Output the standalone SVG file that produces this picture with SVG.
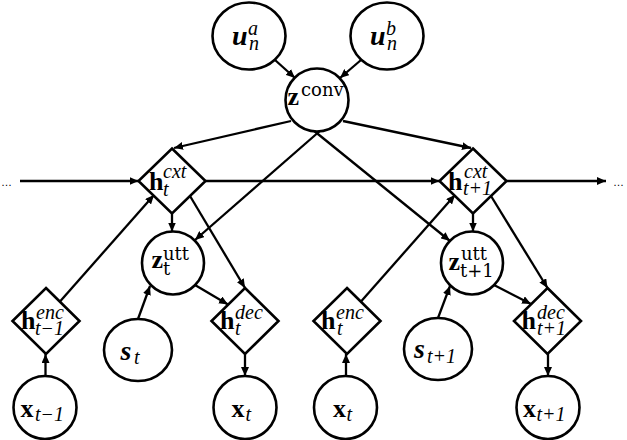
<svg xmlns="http://www.w3.org/2000/svg" width="627" height="440" viewBox="0 0 627 440">
<style>
.n{fill:#fff;stroke:#000;stroke-width:2.6}
.e{stroke:#000;stroke-width:2.3;fill:none;marker-end:url(#ah)}
.t{font-family:"Liberation Serif","Times New Roman",serif;fill:#000}
.m{font-size:26px;font-weight:bold;font-style:normal}
.mi{font-size:28px;font-weight:bold;font-style:italic}
.s{font-size:20px;font-style:italic;font-weight:normal}
.su{font-family:"DejaVu Serif","Liberation Serif",serif;font-size:18px;font-style:normal;font-weight:normal}
.d{font-family:"Liberation Sans",Arial,sans-serif;font-size:11px;fill:#000}
</style>
<defs>
<marker id="ah" markerUnits="userSpaceOnUse" markerWidth="9" markerHeight="8" refX="9" refY="4" orient="auto">
<path d="M0,0 L9,4 L0,8 z" fill="#000"/>
</marker>
</defs>
<g id="connectors">
<line class="e" x1="275" y1="60" x2="295" y2="78"/>
<line class="e" x1="361" y1="60" x2="340" y2="78"/>
<line class="e" x1="291" y1="121" x2="174" y2="148"/>
<line class="e" x1="343" y1="121" x2="471" y2="148"/>
<line class="e" x1="321" y1="130" x2="195" y2="240"/>
<line class="e" x1="313" y1="130" x2="450" y2="241"/>
<line class="e" x1="20" y1="181" x2="138.5" y2="181"/>
<line class="e" x1="205.5" y1="181" x2="439.5" y2="181"/>
<line class="e" x1="506.5" y1="181" x2="606" y2="181"/>
<line class="e" x1="172" y1="213.5" x2="172" y2="231.5"/>
<line class="e" x1="473" y1="213.5" x2="473" y2="231.5"/>
<line class="e" x1="190" y1="196" x2="245" y2="288"/>
<line class="e" x1="491" y1="196" x2="547.5" y2="288"/>
<line class="e" x1="60" y1="301.5" x2="154" y2="195"/>
<line class="e" x1="361" y1="301.5" x2="455" y2="195"/>
<line class="e" x1="45.5" y1="376" x2="45.5" y2="354"/>
<line class="e" x1="346" y1="376" x2="346" y2="354"/>
<line class="e" x1="245" y1="354" x2="245" y2="376"/>
<line class="e" x1="548" y1="354" x2="548" y2="376"/>
<line class="e" x1="138" y1="319" x2="150" y2="286"/>
<line class="e" x1="438" y1="318" x2="450" y2="286"/>
<line class="e" x1="195" y1="285" x2="228" y2="304.5"/>
<line class="e" x1="494" y1="285" x2="531" y2="304"/>
<text class="d" x="1" y="186">…</text>
<text class="d" x="613" y="186">…</text>
</g>
<g id="u_a"><ellipse class="n" cx="249" cy="36" rx="36.5" ry="33.5"/>
<text class="t"><tspan class="mi" x="232" y="45">u</tspan><tspan class="s" x="248" y="35">a</tspan><tspan class="s" x="249" y="50">n</tspan></text></g>
<g id="u_b"><ellipse class="n" cx="387" cy="36" rx="36.5" ry="33.5"/>
<text class="t"><tspan class="mi" x="370" y="45">u</tspan><tspan class="s" x="386" y="35">b</tspan><tspan class="s" x="387" y="50">n</tspan></text></g>
<g id="z_conv"><circle class="n" cx="317" cy="100" r="31.5"/>
<text class="t"><tspan class="m" x="287.5" y="105">z</tspan><tspan class="su" x="301" y="96">conv</tspan></text></g>
<g id="h_cxt_t"><polygon class="n" points="172,148.5 205.5,181 172,213.5 138.5,181"/>
<text class="t"><tspan class="m" x="149" y="190">h</tspan><tspan class="s" x="163" y="178">cxt</tspan><tspan class="s" x="163" y="196">t</tspan></text></g>
<g id="h_cxt_t1"><polygon class="n" points="473,148.5 506.5,181 473,213.5 439.5,181"/>
<text class="t"><tspan class="m" x="448" y="190">h</tspan><tspan class="s" x="464" y="178">cxt</tspan><tspan class="s" x="463" y="195">t+1</tspan></text></g>
<g id="z_utt_t"><ellipse class="n" cx="173" cy="263" rx="31" ry="31.5"/>
<text class="t"><tspan class="m" x="151.5" y="268">z</tspan><tspan class="su" x="163" y="260">utt</tspan><tspan class="su" x="163" y="275">t</tspan></text></g>
<g id="z_utt_t1"><ellipse class="n" cx="472" cy="263" rx="31" ry="31.5"/>
<text class="t"><tspan class="m" x="448.5" y="270">z</tspan><tspan class="su" x="461" y="260">utt</tspan><tspan class="su" x="460" y="277">t+1</tspan></text></g>
<g id="h_enc_tm1"><polygon class="n" points="46,288 79.5,321 46,354 12.5,321"/>
<text class="t"><tspan class="m" x="21" y="329">h</tspan><tspan class="s" x="36" y="319">enc</tspan><tspan class="s" x="35" y="335">t−1</tspan></text></g>
<g id="h_dec_t"><polygon class="n" points="245,288 278.5,321 245,354 211.5,321"/>
<text class="t"><tspan class="m" x="220" y="329">h</tspan><tspan class="s" x="235" y="319">dec</tspan><tspan class="s" x="235" y="335">t</tspan></text></g>
<g id="h_enc_t"><polygon class="n" points="347,288 380.5,321 347,354 313.5,321"/>
<text class="t"><tspan class="m" x="321" y="329">h</tspan><tspan class="s" x="336" y="319">enc</tspan><tspan class="s" x="337" y="335">t</tspan></text></g>
<g id="h_dec_t1"><polygon class="n" points="547.5,288 581,321 547.5,354 514,321"/>
<text class="t"><tspan class="m" x="521.5" y="329">h</tspan><tspan class="s" x="537" y="319">dec</tspan><tspan class="s" x="537" y="335">t+1</tspan></text></g>
<g id="s_t"><ellipse class="n" cx="138" cy="350" rx="34" ry="31"/>
<text class="t"><tspan class="mi" x="120.5" y="360">s</tspan><tspan class="s" x="134" y="364">t</tspan></text></g>
<g id="s_t1"><ellipse class="n" cx="438" cy="349" rx="34" ry="31"/>
<text class="t"><tspan class="mi" x="414" y="358">s</tspan><tspan class="s" x="427" y="363">t+1</tspan></text></g>
<g id="x_tm1"><ellipse class="n" cx="45" cy="407.5" rx="31.5" ry="31.5"/>
<text class="t"><tspan class="m" x="20.5" y="416.5">x</tspan><tspan class="s" x="35" y="421">t−1</tspan></text></g>
<g id="x_t_a"><ellipse class="n" cx="245" cy="407.5" rx="31.5" ry="31.5"/>
<text class="t"><tspan class="m" x="231.5" y="416.5">x</tspan><tspan class="s" x="245.5" y="421">t</tspan></text></g>
<g id="x_t_b"><ellipse class="n" cx="345.5" cy="407.5" rx="31.5" ry="31.5"/>
<text class="t"><tspan class="m" x="333" y="416.5">x</tspan><tspan class="s" x="346.5" y="421">t</tspan></text></g>
<g id="x_t1"><ellipse class="n" cx="548" cy="407.5" rx="31.5" ry="31.5"/>
<text class="t"><tspan class="m" x="523" y="416.5">x</tspan><tspan class="s" x="536.5" y="421">t+1</tspan></text></g>
</svg>
